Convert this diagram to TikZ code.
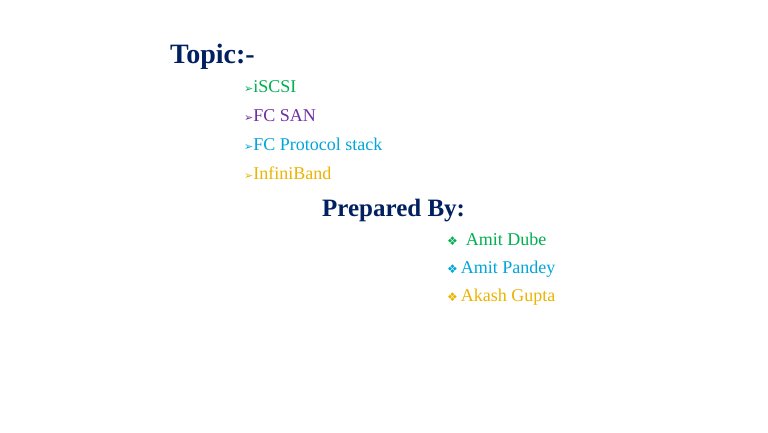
\documentclass[tikz,border=0pt]{standalone}
\usepackage{fontspec}
\setmainfont{Liberation Serif}
\newfontfamily\symfont{DejaVu Sans}
\definecolor{navy}{RGB}{0,32,96}
\definecolor{cgreen}{RGB}{0,176,80}
\definecolor{cpurple}{RGB}{112,48,160}
\definecolor{ccyan}{RGB}{0,166,220}
\definecolor{cgold}{RGB}{235,180,0}
\begin{document}
\begin{tikzpicture}[x=1pt,y=-1pt,
  txt/.style={anchor=base west,inner sep=0pt,font=\fontsize{18}{20}\selectfont},
  head/.style={anchor=base west,inner sep=0pt,font=\fontsize{28}{30}\selectfont\bfseries,text=navy}]
\fill[white] (0,0) rectangle (768,432);
\node[head] (topic) at (170,63) {Topic:-};
\node[txt,text=cgreen] (a) at (244,92) {{\symfont\fontsize{11}{12}\selectfont ➢}iSCSI};
\node[txt,text=cpurple] (b) at (244,121) {{\symfont\fontsize{11}{12}\selectfont ➢}FC SAN};
\node[txt,text=ccyan] (c) at (244,150) {{\symfont\fontsize{11}{12}\selectfont ➢}FC Protocol stack};
\node[txt,text=cgold] (d) at (244,179) {{\symfont\fontsize{11}{12}\selectfont ➢}InfiniBand};
\node[head,font=\fontsize{25}{28}\selectfont\bfseries] (prep) at (322,216) {Prepared By:};
\node[txt,text=cgreen] (n1) at (447,245) {{\symfont\fontsize{12}{12}\selectfont ❖}\hspace{8pt}Amit Dube};
\node[txt,text=ccyan] (n2) at (447,273) {{\symfont\fontsize{12}{12}\selectfont ❖}\hspace{3pt}Amit Pandey};
\node[txt,text=cgold] (n3) at (447,301) {{\symfont\fontsize{12}{12}\selectfont ❖}\hspace{3pt}Akash Gupta};
\end{tikzpicture}
\end{document}
